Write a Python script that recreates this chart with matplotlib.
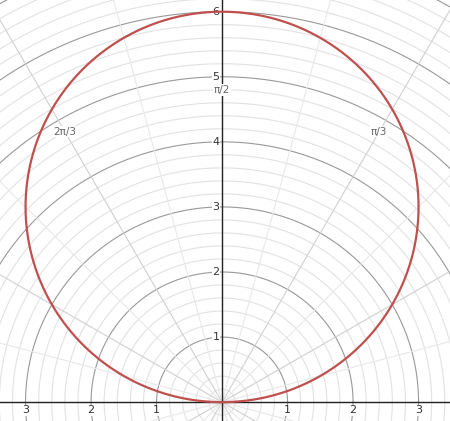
import numpy as np
import matplotlib
matplotlib.use("Agg")
import matplotlib.pyplot as plt

amp = 6.0  # r = 6 sin(theta)
x_ticks = [-3, -2, -1, 1, 2, 3]
x_labels = ["3", "2", "1", "1", "2", "3"]
y_ticks = [1, 2, 3, 4, 5, 6]
angle_labels = [(np.pi/3, "π/3"), (np.pi/2, "π/2"), (2*np.pi/3, "2π/3")]

fig = plt.figure(figsize=(4.5, 4.21), dpi=100)
ax = fig.add_axes([0, 0, 1, 1])
xmin, xmax, ymin, ymax = -3.39, 3.48, -0.29, 6.18
ax.set_xlim(xmin, xmax); ax.set_ylim(ymin, ymax)
ax.axis("off")

t = np.linspace(0, 2*np.pi, 721)
for r in np.arange(0.2, 10, 0.2):
    major = abs(r - round(r)) < 1e-6
    ax.plot(r*np.cos(t), r*np.sin(t), color="#999999" if major else "#e2e2e2",
            lw=0.8, zorder=1)
for k in range(24):
    a = k*np.pi/12
    major = k % 2 == 0
    ax.plot([0, 10*np.cos(a)], [0, 10*np.sin(a)],
            color="#d0d0d0" if major else "#e8e8e8", lw=0.8, zorder=1)

ax.axhline(0, color="#222222", lw=1, zorder=2)
ax.axvline(0, color="#222222", lw=1, zorder=2)
for v, s in zip(x_ticks, x_labels):
    ax.text(v, -0.05, s, ha="center", va="top", fontsize=8, color="#333333",
            bbox=dict(fc="white", ec="none", pad=0.5))
for v in y_ticks:
    ax.text(-0.04, v, str(v), ha="right", va="center", fontsize=8, color="#333333",
            bbox=dict(fc="white", ec="none", pad=0.5))
for a, s in angle_labels:
    ax.text(4.8*np.cos(a), 4.8*np.sin(a), s, ha="center", va="center",
            fontsize=7.5, color="#666666", bbox=dict(fc="white", ec="none", pad=0.5))

th = np.linspace(0, np.pi, 600)
r = amp*np.sin(th)
ax.plot(r*np.cos(th), r*np.sin(th), color="#c0504d", lw=1.6, zorder=3)
fig.savefig("out.png", dpi=100)
